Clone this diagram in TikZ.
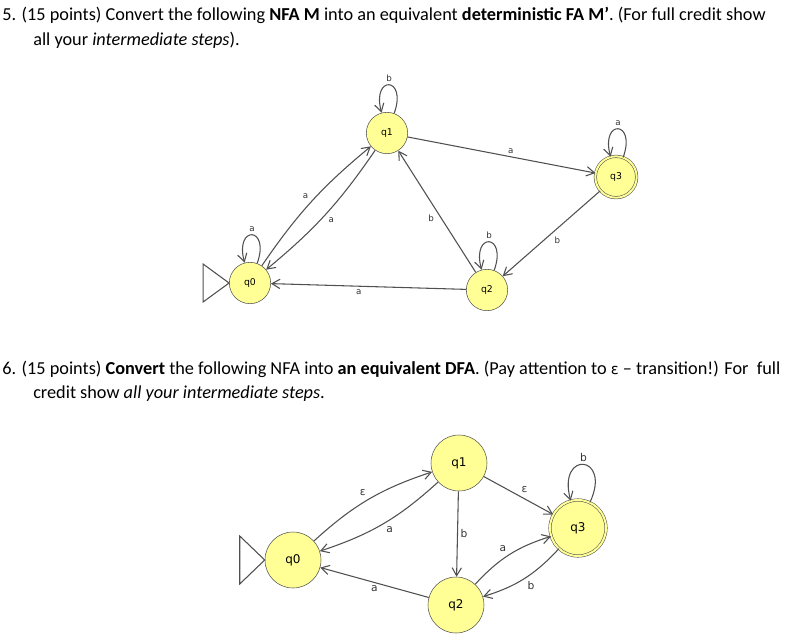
\documentclass[tikz,border=0pt]{standalone}
\usepackage{fontspec}
\setmainfont{Carlito}
\newfontfamily\dv{DejaVu Sans}
\usetikzlibrary{arrows.meta}
\definecolor{st}{RGB}{255,255,150}
\definecolor{ln}{RGB}{80,80,80}
\tikzset{
 sa/.style={circle,draw=ln,fill=st,minimum size=31pt,inner sep=0pt,font=\dv\fontsize{7}{8}\selectfont},
 sb/.style={circle,draw=ln,fill=st,minimum size=42pt,inner sep=0pt,font=\dv\fontsize{9}{10}\selectfont},
 acc/.style={double=st,double distance=1.5pt},
 tr/.style={draw=ln,-{Straight Barb[length=6pt,width=7pt]},line width=0.8pt},
 lab/.style={font=\dv\fontsize{6.5}{7}\selectfont,inner sep=2pt,text=black!80},
 labb/.style={font=\dv\fontsize{8}{9}\selectfont,inner sep=2pt,text=black!80},
 txt/.style={anchor=base west,inner sep=0pt,font=\fontsize{13.7}{16}\selectfont}
}
\begin{document}
\begin{tikzpicture}[x=0.75pt,y=-0.75pt]
\useasboundingbox (0,0) rectangle (793,643);
\node[txt] (t1) at (2,20) {5. (15 points) Convert the following \textbf{NFA M} into an equivalent \textbf{deterministic FA M’}. (For full credit show};
\node[txt] (t2) at (33,45) {all your \textit{intermediate steps}).};
\node[txt] (t3) at (2,374) {6. (15 points) \textbf{Convert} the following NFA into \textbf{an equivalent DFA}. (Pay attention to {\dv\fontsize{11}{13}\selectfont ε} -- transition!) For\ \ full};
\node[txt] (t4) at (33,398) {credit show \textit{all your intermediate steps}.};
% diagram 1
\node[sa] (a0) at (250,283) {q0};
\node[sa] (a1) at (387,133) {q1};
\node[sa] (a2) at (487,290) {q2};
\node[sa,acc] (a3) at (616,177) {q3};
\draw[ln,line width=0.8pt] (a0.west) -- ++(-26,-19) -- ++(0,38) -- cycle;
\draw[tr] (a0) to[bend left=8] node[lab,above left] {a} (a1);
\draw[tr] (a1) to[bend left=8] node[lab,below right] {a} (a0);
\draw[tr] (a1) -- node[lab,above,pos=0.55] {a} (a3);
\draw[tr] (a3) -- node[lab,below right] {b} (a2);
\draw[tr] (a2) -- node[lab,below left] {b} (a1);
\draw[tr] (a2) -- node[lab,below,pos=0.55] {a} (a0);
\draw[tr] (a0) to[out=70,in=105,looseness=8] node[lab,above] {a} (a0);
\draw[tr] (a1) to[out=70,in=105,looseness=8] node[lab,above] {b} (a1);
\draw[tr] (a2) to[out=70,in=105,looseness=8] node[lab,above] {b} (a2);
\draw[tr] (a3) to[out=70,in=105,looseness=8] node[lab,above] {a} (a3);
% diagram 2
\node[sb] (b0) at (293,560) {q0};
\node[sb] (b1) at (459,463) {q1};
\node[sb] (b2) at (456,605) {q2};
\node[sb,acc] (b3) at (578,528) {q3};
\draw[ln,line width=0.8pt] (b0.west) -- ++(-25,-24) -- ++(0,48) -- cycle;
\draw[tr] (b0) to[bend left=12] node[labb,above left] {ε} (b1);
\draw[tr] (b1) to[bend left=12] node[labb,below right] {a} (b0);
\draw[tr] (b1) -- node[labb,above right] {ε} (b3);
\draw[tr] (b1) -- node[labb,right] {b} (b2);
\draw[tr] (b2) to[bend left=15] node[labb,above left] {a} (b3);
\draw[tr] (b3) to[bend left=15] node[labb,below right] {b} (b2);
\draw[tr] (b2) -- node[labb,below] {a} (b0);
\draw[tr] (b3) to[out=65,in=105,looseness=7] node[labb,above] {b} (b3);
\end{tikzpicture}
\end{document}
